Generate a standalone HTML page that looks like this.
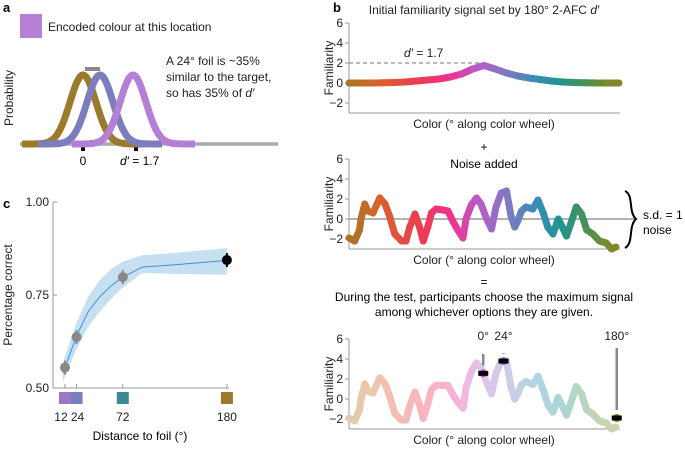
<!DOCTYPE html>
<html><head><meta charset="utf-8"><style>
body{margin:0;background:#fff}
svg{display:block;font-family:"Liberation Sans",sans-serif}
</style></head><body>
<svg id="fig" width="685" height="452" viewBox="0 0 685 452">
<g id="pa">
<text x="3" y="12" font-size="13" font-weight="bold">a</text>
<rect x="20" y="14" width="22" height="24" fill="#b57fd6"/>
<text x="48" y="31" font-size="12" fill="#222">Encoded colour at this location</text>
<text transform="translate(13,98) rotate(-90)" font-size="12" text-anchor="middle" fill="#222">Probability</text>
<line x1="20" y1="144" x2="278" y2="144" stroke="#aaa" stroke-width="3.5"/>
<rect x="85" y="67" width="15" height="4" fill="#888"/>
<text x="166" y="65" font-size="12" fill="#222">A 24° foil is ~35%</text>
<text x="166" y="81" font-size="12" fill="#222">similar to the target,</text>
<text x="166" y="97" font-size="12" fill="#222">so has 35% of <tspan font-style="italic">d′</tspan></text>
<rect x="81" y="146" width="4" height="5" fill="#000"/>
<rect x="134" y="146" width="4" height="5" fill="#000"/>
<text x="83" y="165" font-size="12" text-anchor="middle">0</text>
<text x="120" y="165" font-size="12"><tspan font-style="italic">d′</tspan> = 1.7</text>
</g>
<g id="pb">
<text x="333" y="12" font-size="13" font-weight="bold">b</text>
<text x="484" y="14" font-size="12" text-anchor="middle" fill="#222">Initial familiarity signal set by 180° 2-AFC <tspan font-style="italic">d′</tspan></text>
<text x="484" y="151" font-size="12" text-anchor="middle">+</text>
<text x="484" y="168" font-size="12" text-anchor="middle">Noise added</text>
<text x="484" y="286" font-size="12" text-anchor="middle">=</text>
<text x="484" y="301" font-size="12" text-anchor="middle">During the test, participants choose the maximum signal</text>
<text x="484" y="316" font-size="12" text-anchor="middle">among whichever options they are given.</text>
<path d="M625,191 C634,195 628,212 636,219 C628,226 634,243 625,248" fill="none" stroke="#000" stroke-width="2"/>
<text x="643" y="219" font-size="12">s.d. = 1</text>
<text x="643" y="234" font-size="12">noise</text>
</g>
<g id="pc">
<text x="3" y="208" font-size="13" font-weight="bold">c</text>
<text transform="translate(12,295) rotate(-90)" font-size="12" text-anchor="middle" fill="#222">Percentage correct</text>
<text x="140" y="440" font-size="12" text-anchor="middle">Distance to foil (°)</text>
</g>
</svg>
<script>
// ---- panel b data ----
const noiseDeg=[0,7.6,14,16,21,25,32,41,48,54,61,70,76,81,88,94,99,105,110,116,125,132,139,145,152,156,163,170,176,183,190,196,203,210,216,221,225,230,236,245,252,259,265,272,279,285,290,296,303,310,317,325,334,343,350,356];
const noiseVal=[-1.9,-2.2,-1.1,0,1.5,0.8,0.6,2.1,1.5,0.3,-1.5,-2.2,-2.2,-0.8,0.5,-0.8,-2.2,-0.8,0.6,1.0,0.9,0.8,-0.3,-1.1,-1.9,0,1.4,2.1,1.5,0.1,-1.0,1.2,2.6,2.8,0.3,-0.8,-0.2,0.8,1.2,1.0,1.9,0.6,-0.8,-1.5,0,-0.9,-1.7,-0.4,1.2,0.5,-1.1,-1.5,-2.2,-2.4,-3.0,-2.8];
const sigDeg=[0,15,30,45,60,75,90,105,120,135,150,165,180,195,210,225,240,255,270,285,300,315,330,345,360];
const sigVal=[0,0,0,0.02,0.05,0.1,0.2,0.3,0.4,0.6,0.9,1.4,1.75,1.4,1.0,0.7,0.5,0.35,0.2,0.1,0.05,0.02,0,0,0];
const yTicks=[6,4,2,0,-2];
const optionDeg=[179,206,357];
const optionLabels=["0°","24°","180°"];
// ---- panel c data ----
const distCats=[12,24,72,180];
const pcVals=[0.555,0.637,0.798,0.844];
const catColors=["#9a78c4","#7b7dbd","#3d8a93","#9c7a2c"];
const fitDist=[10,12,24,36,48,60,72,92,120,180];
const fitVal=[0.54,0.555,0.64,0.705,0.745,0.775,0.798,0.825,0.83,0.843];
const fitHi=[0.565,0.585,0.675,0.745,0.79,0.82,0.84,0.857,0.862,0.876];
const fitLo=[0.515,0.53,0.605,0.665,0.705,0.74,0.77,0.809,0.807,0.804];
const pcTicks=[0.50,0.75,1.00];

const NS='http://www.w3.org/2000/svg';
const svg=document.getElementById('fig');
function mk(tag,attrs,parent){const e=document.createElementNS(NS,tag);for(const k in attrs)e.setAttribute(k,attrs[k]);(parent||svg).appendChild(e);return e;}
const stops=[[0,[160,120,40]],[40,[215,100,40]],[100,[238,58,85]],[140,[238,51,144]],[175,[182,92,200]],[215,[125,122,192]],[250,[58,140,184]],[285,[30,148,144]],[330,[90,144,64]],[360,[143,132,36]]];
function hue(d,fade){let i=0;while(i<stops.length-2&&d>stops[i+1][0])i++;const a=stops[i],b=stops[i+1];const t=Math.max(0,Math.min(1,(d-a[0])/(b[0]-a[0])));let c=a[1].map((v,j)=>v+(b[1][j]-v)*t);if(fade)c=c.map(v=>v+(255-v)*fade);return 'rgb('+c.map(Math.round).join(',')+')';}
function sigAt(d){for(let i=0;i<sigDeg.length-1;i++){if(d<=sigDeg[i+1]){const t=(d-sigDeg[i])/(sigDeg[i+1]-sigDeg[i]);return sigVal[i]+(sigVal[i+1]-sigVal[i])*t;}}return sigVal[sigVal.length-1];}
const xB=d=>349+d*0.75;

function axesB(g,zeroY,name){
  const yB=v=>zeroY-v*10;
  mk('line',{x1:349,y1:yB(6),x2:349,y2:yB(-3),stroke:'#999','stroke-width':1},g);
  mk('line',{x1:349,y1:yB(-3),x2:620,y2:yB(-3),stroke:'#999','stroke-width':1},g);
  yTicks.forEach(v=>{
    mk('line',{x1:345,y1:yB(v),x2:349,y2:yB(v),stroke:'#999'},g);
    const t=mk('text',{x:343,y:yB(v)+4,'font-size':12,'text-anchor':'end',fill:'#222'},g);
    
    
    t.textContent=(v<0?'−':'')+Math.abs(v);
  });
  const l=mk('text',{x:484,y:yB(-3)+15,'font-size':12,'text-anchor':'middle',fill:'#222'},g);
  
  
  l.textContent='Color (° along color wheel)';
  const f=mk('text',{transform:'translate(333,'+yB(1.5)+') rotate(-90)','font-size':12,'text-anchor':'middle',fill:'#222'},g);
  
  
  f.textContent='Familiarity';
  return yB;
}
function series(g,degs,vals,yB,fade,w,name){
  for(let i=0;i<degs.length-1;i++){
    const s=mk('line',{x1:xB(degs[i]),y1:yB(vals[i]),x2:xB(degs[i+1]),y2:yB(vals[i+1]),stroke:hue((degs[i]+degs[i+1])/2,fade),'stroke-width':w,'stroke-linecap':'round'},g);
    
    
  }
}
// top
const gt=mk('g',{});


const yT=axesB(gt,83);
mk('line',{x1:349,y1:yT(2),x2:xB(178),y2:yT(2),stroke:'#777','stroke-dasharray':'4,3'},gt);
const dl=mk('text',{x:404,y:yT(2)-6,'font-size':12,fill:'#222'},gt);


dl.innerHTML='<tspan font-style="italic">d′</tspan> = 1.7';
series(gt,sigDeg,sigVal,yT,0,7,'signal');
// middle
const gm=mk('g',{});


const yM=axesB(gm,219);
mk('line',{x1:349,y1:yM(0),x2:634,y2:yM(0),stroke:'#999','stroke-width':1.5},gm);
series(gm,noiseDeg,noiseVal,yM,0,7,'noise');
// bottom
const gb=mk('g',{});


const yBt=axesB(gb,399);
const comb=noiseDeg.map((d,i)=>noiseVal[i]+sigAt(d));
series(gb,noiseDeg,comb,yBt,0.62,7,'combined');
optionDeg.forEach((d,i)=>{
  let v=noiseVal[0]+sigAt(d);
  for(let k=0;k<noiseDeg.length-1;k++){if(d>=noiseDeg[k]&&d<=noiseDeg[k+1]){const t=(d-noiseDeg[k])/(noiseDeg[k+1]-noiseDeg[k]);v=comb[k]+(comb[k+1]-comb[k])*t;}}
  const x=xB(d);
  const c=mk('circle',{cx:x,cy:yBt(v),r:4,fill:hue(d,0)},gb);
  
  
  mk('line',{x1:x,y1:yBt(v)-8,x2:x,y2:i==2?348:354,stroke:'#888','stroke-width':2.5},gb);
  const b=mk('rect',{x:x-5,y:yBt(v)-2.5,width:10,height:5,fill:'#000'},gb);
  
  
  const t=mk('text',{x:x,y:340,'font-size':12,'text-anchor':'middle',fill:'#222'},gb);
  
  
  t.textContent=optionLabels[i];
});
// panel a curves
const ga=document.getElementById('pa');
[[83,'#9c7a2c',22,145],[100,'#7b7dbd',38,162],[133,'#b57fd6',72,195]].forEach(([c,col,a,b])=>{
  let p='';for(let x=a;x<=b;x+=1){const y=144-69*Math.exp(-((x-c)**2)/(2*13*13));p+=(p?'L':'M')+x+','+y.toFixed(1);}
  const e=mk('path',{d:p,fill:'none',stroke:col,'stroke-width':7,'stroke-linecap':'butt'},ga);
  
  
});
// panel c
const gc=document.getElementById('pc');
const xC=d=>53.4+d*0.964;
const yC=v=>388-(v-0.5)*372;
mk('line',{x1:53,y1:yC(1),x2:53,y2:yC(0.5),stroke:'#999'},gc);
mk('line',{x1:53,y1:yC(0.5),x2:229,y2:yC(0.5),stroke:'#999'},gc);
pcTicks.forEach(v=>{
  mk('line',{x1:53,y1:yC(v),x2:57,y2:yC(v),stroke:'#999'},gc);
  const t=mk('text',{x:49,y:yC(v)+4,'font-size':12,'text-anchor':'end',fill:'#222'},gc);
  
  
  t.textContent=v.toFixed(2);
});
let band='M'+fitDist.map((d,i)=>xC(d)+','+yC(fitHi[i])).join('L')+'L'+fitDist.map((d,i)=>xC(d)+','+yC(fitLo[i])).reverse().join('L')+'Z';
const bd=mk('path',{d:band,fill:'#c6e0f1'},gc);


const fl=mk('polyline',{points:fitDist.map((d,i)=>xC(d)+','+yC(fitVal[i])).join(' '),fill:'none',stroke:'#3d8fd6','stroke-width':1},gc);


distCats.forEach((d,i)=>{
  const x=xC(d);
  mk('line',{x1:x,y1:388,x2:x,y2:384,stroke:'#999'},gc);
  const s=mk('rect',{x:x-6,y:392,width:12,height:12,fill:catColors[i]},gc);
  
  
  const t=mk('text',{x:i==0?x-4:(i==1?x+1:x),y:421,'font-size':12,'text-anchor':'middle',fill:'#222'},gc);
  
  
  t.textContent=d;
  const col=i==3?'#000':'#888';
  mk('line',{x1:x,y1:yC(pcVals[i])-7,x2:x,y2:yC(pcVals[i])+7,stroke:col,'stroke-width':2},gc);
  const p=mk('circle',{cx:x,cy:yC(pcVals[i]),r:5,fill:col},gc);
  
  
});
</script>
</body></html>
